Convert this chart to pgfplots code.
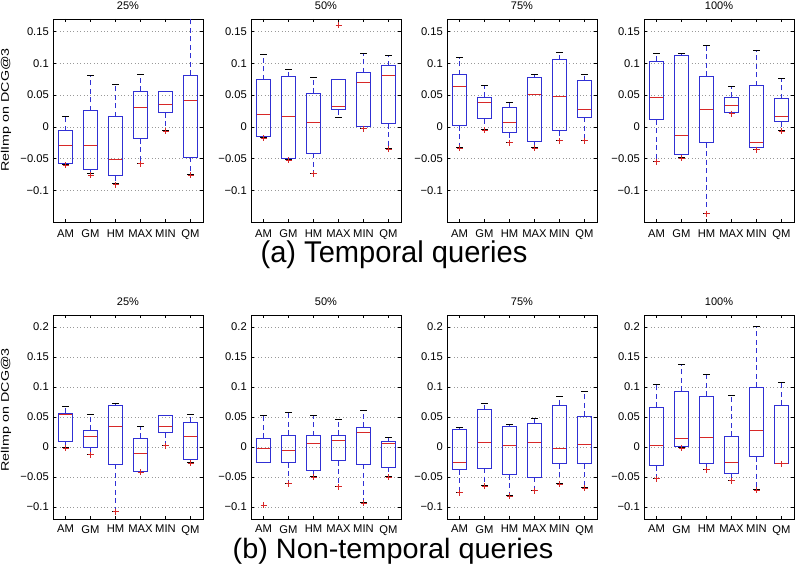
\documentclass[border=0pt]{standalone}
\usepackage{pgfplots}
\pgfplotsset{compat=1.18}
\usepgfplotslibrary{statistics}
\usepackage{fontspec}
\setmainfont{Liberation Sans}

\definecolor{boxblue}{RGB}{48,48,212}
\definecolor{medred}{RGB}{215,40,40}

\pgfplotsset{
  panel/.style={
    scale only axis, width=150pt,
    xmin=0.5, xmax=6.5,
    xtick={1,...,6}, xticklabels={AM,GM,HM,MAX,MIN,QM},
    tick align=inside, tick pos=both, major tick length=3pt,
    ymajorgrids,
    grid style={gray!80, line width=0.6pt, dash pattern=on 0.8pt off 2.6pt},
    axis line style={black, line width=0.9pt},
    tick style={black, line width=0.6pt},
    ticklabel style={font=\fontsize{11.2}{11.2}\selectfont},
    yticklabel style={inner sep=0pt, anchor=east, xshift=-4pt},
    every axis title/.style={at={(0.5,1)}, anchor=base, yshift=9.5pt, inner sep=0pt,
      font=\fontsize{11}{11}\selectfont},
    boxplot/draw direction=y,
    boxplot/box extend=0.53,
    boxplot/whisker extend=0.25,
    % blue box, red median
    boxplot/draw/box/.code={%
      \draw[boxblue, solid, line width=1pt]
        (boxplot box cs:\pgfplotsboxplotvalue{lower quartile},0)
        rectangle (boxplot box cs:\pgfplotsboxplotvalue{upper quartile},1);
    },
    boxplot/draw/median/.code={%
      \draw[medred, solid, line width=1pt]
        (boxplot box cs:\pgfplotsboxplotvalue{median},0)
        -- (boxplot box cs:\pgfplotsboxplotvalue{median},1);
    },
    % dashed blue whisker with a solid black cap at its end
    boxplot/draw/lower whisker/.code={%
      \draw[boxblue, line width=0.9pt, dash pattern=on 5pt off 3.5pt]
        (boxplot box cs:\pgfplotsboxplotvalue{lower quartile},0.5)
        -- (boxplot box cs:\pgfplotsboxplotvalue{lower whisker},0.5);
      \draw[black, line width=0.9pt, solid]
        (boxplot whisker cs:\pgfplotsboxplotvalue{lower whisker},0)
        -- (boxplot whisker cs:\pgfplotsboxplotvalue{lower whisker},1);
    },
    boxplot/draw/upper whisker/.code={%
      \draw[boxblue, line width=0.9pt, dash pattern=on 5pt off 3.5pt]
        (boxplot box cs:\pgfplotsboxplotvalue{upper quartile},0.5)
        -- (boxplot box cs:\pgfplotsboxplotvalue{upper whisker},0.5);
      \draw[black, line width=0.9pt, solid]
        (boxplot whisker cs:\pgfplotsboxplotvalue{upper whisker},0)
        -- (boxplot whisker cs:\pgfplotsboxplotvalue{upper whisker},1);
    },
  },
  toprow/.style={panel, height=203pt, ymin=-0.15, ymax=0.17,
    ytick={-0.1,-0.05,0,0.05,0.1,0.15},
    yticklabels={−0.1,−0.05,0,0.05,0.1,0.15},
    xticklabel style={inner sep=0pt, anchor=north, yshift=-7.5pt}},
  botrow/.style={panel, height=204pt, ymin=-0.12, ymax=0.22,
    ytick={-0.1,-0.05,0,0.05,0.1,0.15,0.2},
    yticklabels={−0.1,−0.05,0,0.05,0.1,0.15,0.2},
    xticklabel style={inner sep=0pt, anchor=north, yshift=-6pt}},
  bxs/.style={boxblue, solid},
  outl/.style={only marks, mark=+, mark size=3pt, medred, line width=0.8pt},
}

% one box: position, lower whisker, lower quartile, median, upper quartile, upper whisker
\newcommand\bx[6]{%
  \addplot[bxs, boxplot prepared={draw position=#1,
      lower whisker=#2, lower quartile=#3, median=#4,
      upper quartile=#5, upper whisker=#6}] coordinates {};}

\begin{document}
\begin{tikzpicture}
\path[use as bounding box] (0,0) rectangle (798pt,568pt);

% ---------------- (a) Temporal queries ----------------
\begin{axis}[toprow, at={(53pt,346pt)}, anchor=south west, title={25\%}]
\bx{1}{-0.059}{-0.057}{-0.030}{-0.006}{0.017}
\bx{2}{-0.074}{-0.068}{-0.029}{0.025}{0.081}
\bx{3}{-0.090}{-0.077}{-0.052}{0.016}{0.067}
\bx{4}{-0.057}{-0.019}{0.031}{0.056}{0.083}
\bx{5}{-0.006}{0.022}{0.036}{0.055}{0.056}
\bx{6}{-0.075}{-0.048}{0.041}{0.081}{0.185}
\addplot[outl] coordinates {(1,-0.060) (2,-0.076) (3,-0.091) (4,-0.058) (5,-0.007) (6,-0.076)};
\end{axis}

\begin{axis}[toprow, at={(251pt,346pt)}, anchor=south west, title={50\%}]
\bx{1}{-0.017}{-0.016}{0.020}{0.074}{0.114}
\bx{2}{-0.052}{-0.050}{0.017}{0.079}{0.090}
\bx{3}{-0.073}{-0.042}{0.007}{0.053}{0.078}
\bx{4}{0.015}{0.027}{0.032}{0.074}{0.074}
\bx{5}{-0.002}{0.000}{0.070}{0.085}{0.115}
\bx{6}{-0.034}{0.005}{0.081}{0.096}{0.112}
\addplot[outl] coordinates {(1,-0.018) (2,-0.053) (3,-0.074) (4,0.160) (5,-0.003) (6,-0.035)};
\end{axis}

\begin{axis}[toprow, at={(447pt,346pt)}, anchor=south west, title={75\%}]
\bx{1}{-0.033}{0.002}{0.064}{0.082}{0.109}
\bx{2}{-0.004}{0.013}{0.038}{0.047}{0.065}
\bx{3}{-0.024}{-0.009}{0.007}{0.030}{0.038}
\bx{4}{-0.033}{-0.023}{0.051}{0.078}{0.082}
\bx{5}{-0.021}{-0.006}{0.048}{0.106}{0.118}
\bx{6}{-0.021}{0.015}{0.028}{0.073}{0.082}
\addplot[outl] coordinates {(1,-0.034) (2,-0.005) (3,-0.025) (4,-0.034) (5,-0.022) (6,-0.022)};
\end{axis}

\begin{axis}[toprow, at={(644pt,346pt)}, anchor=south west, title={100\%}]
\bx{1}{-0.054}{0.011}{0.046}{0.103}{0.115}
\bx{2}{-0.048}{-0.044}{-0.013}{0.113}{0.116}
\bx{3}{-0.136}{-0.025}{0.027}{0.080}{0.129}
\bx{4}{0.022}{0.022}{0.033}{0.047}{0.064}
\bx{5}{-0.035}{-0.033}{-0.024}{0.065}{0.120}
\bx{6}{-0.006}{0.008}{0.017}{0.044}{0.076}
\addplot[outl] coordinates {(1,-0.055) (2,-0.049) (3,-0.137) (4,0.021) (5,-0.036) (6,-0.007)};
\end{axis}

% ---------------- (b) Non-temporal queries ----------------
\begin{axis}[botrow, at={(53pt,49pt)}, anchor=south west, title={25\%}]
\bx{1}{-0.001}{0.010}{0.054}{0.056}{0.067}
\bx{2}{-0.012}{0.000}{0.017}{0.028}{0.054}
\bx{3}{-0.107}{-0.029}{0.034}{0.069}{0.073}
\bx{4}{-0.041}{-0.041}{-0.010}{0.015}{0.034}
\bx{5}{0.003}{0.024}{0.035}{0.052}{0.053}
\bx{6}{-0.026}{-0.021}{0.017}{0.041}{0.054}
\addplot[outl] coordinates {(1,-0.002) (2,-0.013) (3,-0.108) (4,-0.042) (5,0.002) (6,-0.027)};
\end{axis}

\begin{axis}[botrow, at={(251pt,49pt)}, anchor=south west, title={50\%}]
\bx{1}{-0.026}{-0.026}{-0.003}{0.015}{0.052}
\bx{2}{-0.060}{-0.026}{-0.005}{0.020}{0.057}
\bx{3}{-0.049}{-0.039}{0.006}{0.019}{0.052}
\bx{4}{-0.065}{-0.023}{0.011}{0.020}{0.046}
\bx{5}{-0.093}{-0.029}{0.024}{0.033}{0.061}
\bx{6}{-0.049}{-0.034}{0.006}{0.010}{0.016}
\addplot[outl] coordinates {(1,-0.097) (2,-0.061) (3,-0.050) (4,-0.066) (5,-0.094) (6,-0.050)};
\end{axis}

\begin{axis}[botrow, at={(447pt,49pt)}, anchor=south west, title={75\%}]
\bx{1}{-0.075}{-0.038}{-0.025}{0.030}{0.033}
\bx{2}{-0.064}{-0.035}{0.007}{0.062}{0.072}
\bx{3}{-0.081}{-0.046}{0.003}{0.035}{0.038}
\bx{4}{-0.072}{-0.050}{0.008}{0.039}{0.048}
\bx{5}{-0.061}{-0.028}{-0.002}{0.070}{0.084}
\bx{6}{-0.068}{-0.028}{0.005}{0.051}{0.093}
\addplot[outl] coordinates {(1,-0.076) (2,-0.065) (3,-0.082) (4,-0.073) (5,-0.062) (6,-0.069)};
\end{axis}

\begin{axis}[botrow, at={(644pt,49pt)}, anchor=south west, title={100\%}]
\bx{1}{-0.052}{-0.031}{0.002}{0.066}{0.105}
\bx{2}{-0.001}{0.001}{0.015}{0.093}{0.138}
\bx{3}{-0.037}{-0.028}{0.016}{0.085}{0.121}
\bx{4}{-0.055}{-0.044}{-0.025}{0.018}{0.086}
\bx{5}{-0.071}{-0.016}{0.028}{0.100}{0.201}
\bx{6}{-0.028}{-0.028}{-0.027}{0.070}{0.107}
\addplot[outl] coordinates {(1,-0.053) (2,-0.002) (3,-0.038) (4,-0.056) (5,-0.072) (6,-0.028)};
\end{axis}

% axis titles and panel captions
\node[rotate=90, anchor=center, inner sep=0pt] at (6pt,458pt)
  {\fontsize{11}{11}\selectfont\scalebox{1.3}[1]{RelImp on DCG@3}};
\node[rotate=90, anchor=center, inner sep=0pt] at (6pt,158pt)
  {\fontsize{11}{11}\selectfont\scalebox{1.3}[1]{RelImp on DCG@3}};
\node[anchor=base, inner sep=0pt] at (394pt,305pt)
  {\fontsize{30}{30}\selectfont\scalebox{0.97}[1]{(a) Temporal queries}};
\node[anchor=base, inner sep=0pt] at (393pt,10pt)
  {\fontsize{28}{28}\selectfont\scalebox{1.03}[1]{(b) Non-temporal queries}};
\end{tikzpicture}
\end{document}
